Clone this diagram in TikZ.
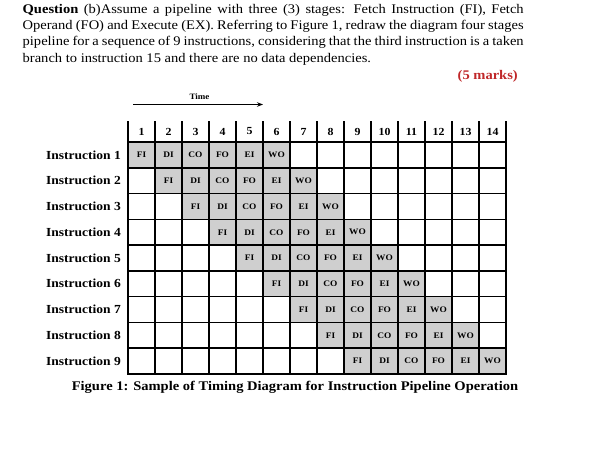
\documentclass[tikz,border=0pt]{standalone}
\usepackage{fontspec}
\setmainfont[FakeStretch=1.1]{Liberation Serif}
\usetikzlibrary{arrows.meta}
\definecolor{cellgray}{HTML}{CFCFCF}
\definecolor{markred}{HTML}{C0282A}
\tikzset{
  qline/.style={anchor=base west, inner sep=0pt, font=\fontsize{13.2}{15}\selectfont},
  cell/.style={fill=cellgray, minimum width=27pt, minimum height=25.78pt, inner sep=0pt, font=\bfseries\fontsize{8.5}{9}\selectfont},
  hnum/.style={inner sep=0pt, font=\bfseries\fontsize{10.8}{12}\selectfont},
  rowlab/.style={anchor=east, inner sep=0pt, font=\bfseries\fontsize{12.3}{14}\selectfont},
  gridline/.style={line width=1.5pt, line cap=rect},
}
\begin{document}
\begin{tikzpicture}[x=1pt,y=-1pt]
\useasboundingbox (0,0) rectangle (598,457);
% question text
\node[qline] (q1) at (22.5,13.3) {\makebox[501pt][s]{\textbf{Question} (b)Assume a pipeline with three (3) stages: Fetch Instruction (FI), Fetch}};
\node[qline] (q2) at (22.5,29.6) {\makebox[501pt][s]{Operand (FO) and Execute (EX). Referring to Figure 1, redraw the diagram four stages}};
\node[qline] (q3) at (22.5,45.9) {\makebox[501pt][s]{pipeline for a sequence of 9 instructions, considering that the third instruction is a taken}};
\node[qline] (q4) at (22.5,62.2) {branch to instruction 15 and there are no data dependencies.};
\node[anchor=base east, inner sep=0pt, text=markred, font=\bfseries\fontsize{13.2}{15}\selectfont] (marks) at (518,80) {(5 marks)};
% time arrow
\coordinate (ta) at (133,104.5);
\coordinate (tb) at (263,104.5);
\draw[line width=1.2pt, -{Stealth[length=6pt,width=4.5pt]}] (ta) -- (tb);
\node[inner sep=0pt, font=\bfseries\fontsize{8.2}{9}\selectfont] (time) at (199.5,96.5) {Time};
% shaded cells
\foreach \k in {1,...,9} {
  \foreach \s [count=\j from 0] in {FI,DI,CO,FO,EI,WO} {
    \pgfmathtruncatemacro\c{\k+\j}
    \node[cell] (c\k-\c) at ({128+27*(\c-0.5)},{142+25.78*(\k-0.5)}) {\s};
  }
  \node[rowlab] (lab\k) at (121,{142+25.78*(\k-0.5)}) {Instruction \k};
}
% header numbers
\foreach \i in {1,...,14} {
  \node[hnum] (h\i) at ({128+27*(\i-0.5)},131.5) {\i};
}
% grid
\foreach \r in {0,...,9} {
  \draw[gridline] (128,{142+25.78*\r}) -- (506,{142+25.78*\r});
}
\foreach \i in {0,...,14} {
  \draw[gridline] ({128+27*\i},122) -- ({128+27*\i},374);
}
% caption
\node[anchor=base, inner sep=0pt, font=\bfseries\fontsize{13.2}{15}\selectfont] (cap) at (295,390.5) {Figure 1: Sample of Timing Diagram for Instruction Pipeline Operation};
\end{tikzpicture}
\end{document}
